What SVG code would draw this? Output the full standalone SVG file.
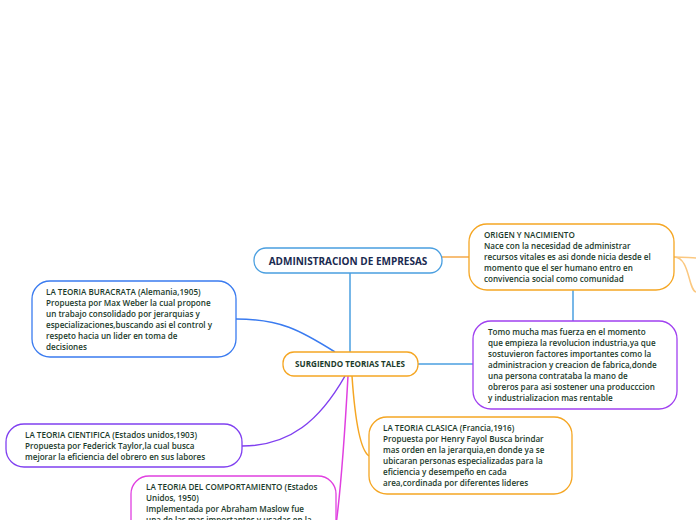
<svg xmlns="http://www.w3.org/2000/svg" width="696" height="520" viewBox="0 0 696 520">
<style>
.t{font-family:"Open Sans","Noto Sans",sans-serif;font-size:8.1px;font-weight:600;fill:#1b3b2b}
.n{fill:#fff;stroke-width:1.3}
.c{fill:none;stroke-width:1.5}
</style>
<rect width="696" height="520" fill="#fff"/>
<g id="connectors">
<path class="c" d="M350,273 V352" stroke="#4a9fe0" stroke-width="2"/>
<path class="c" d="M442,257 H469" stroke="#f5a84a"/>
<path class="c" d="M573,290 V321" stroke="#4a9fe0" stroke-width="2"/>
<path class="c" d="M418,364 H473" stroke="#4a9fe0" stroke-width="2"/>
<path class="c" d="M335,352 C300,330 280,319 236,319" stroke="#3a7bf0"/>
<path class="c" d="M345,376 C320,420 290,446 242,446" stroke="#8040f0"/>
<path class="c" d="M348,376 C345,430 342,480 336,525" stroke="#e040e0"/>
<path class="c" d="M352,376 C355,420 360,450 369,456" stroke="#f5a623"/>
<path class="c" d="M674,257 C685,257 690,258 696,258" stroke="#fbc880"/>
<path class="c" d="M674,257 C690,257 688,290 696,292" stroke="#fbc880"/>
</g>
<g id="admin">
<rect class="n" x="254" y="248" width="188" height="25" rx="12" stroke="#4a9fe0"/>
<text x="348" y="265" text-anchor="middle" style="font-family:'Open Sans',sans-serif;font-size:10px;font-weight:700;fill:#1a2a50">ADMINISTRACION DE EMPRESAS</text>
</g>
<g id="surgiendo">
<rect class="n" x="283" y="352" width="135" height="24" rx="11" stroke="#f5a623"/>
<text class="t" x="350" y="367" text-anchor="middle" style="font-weight:700">SURGIENDO TEORIAS TALES</text>
</g>
<g id="buracrata">
<rect class="n" x="32" y="281" width="204" height="76" rx="18" stroke="#3a7bf0"/>
<text class="t" x="46" y="295">LA TEORIA BURACRATA (Alemania,1905)</text>
<text class="t" x="46" y="306">Propuesta por Max Weber la cual propone</text>
<text class="t" x="46" y="317">un trabajo consolidado por jerarquias y</text>
<text class="t" x="46" y="328">especializaciones,buscando asi el control y</text>
<text class="t" x="46" y="339">respeto hacia un lider en toma de</text>
<text class="t" x="46" y="350">decisiones</text>
</g>
<g id="cientifica">
<rect class="n" x="6" y="424" width="236" height="43" rx="18" stroke="#8040f0"/>
<text class="t" x="25" y="438">LA TEORIA CIENTIFICA (Estados unidos,1903)</text>
<text class="t" x="25" y="449">Propuesta por Federick Taylor,la cual busca</text>
<text class="t" x="25" y="460">mejorar la eficiencia del obrero en sus labores</text>
</g>
<g id="comportamiento">
<rect class="n" x="131" y="476" width="205" height="70" rx="18" stroke="#e040e0"/>
<text class="t" x="146" y="490">LA TEORIA DEL COMPORTAMIENTO (Estados</text>
<text class="t" x="146" y="501">Unidos, 1950)</text>
<text class="t" x="146" y="512">Implementada por Abraham Maslow fue</text>
<text class="t" x="146" y="523">una de las mas importantes y usadas en la</text>
</g>
<g id="origen">
<rect class="n" x="469" y="224" width="205" height="66" rx="18" stroke="#f5a623"/>
<text class="t" x="484" y="238">ORIGEN Y NACIMIENTO</text>
<text class="t" x="484" y="249">Nace con la necesidad de administrar</text>
<text class="t" x="484" y="260">recursos vitales es asi donde nicia desde el</text>
<text class="t" x="484" y="271">momento que el ser humano entro en</text>
<text class="t" x="484" y="282">convivencia social como comunidad</text>
</g>
<g id="tomo">
<rect class="n" x="473" y="321" width="204" height="88" rx="18" stroke="#a040f0"/>
<text class="t" x="488" y="335">Tomo mucha mas fuerza en el momento</text>
<text class="t" x="488" y="346">que empieza la revolucion industria,ya que</text>
<text class="t" x="488" y="357">sostuvieron factores importantes como la</text>
<text class="t" x="488" y="368">administracion y creacion de fabrica,donde</text>
<text class="t" x="488" y="379">una persona contrataba la mano de</text>
<text class="t" x="488" y="390">obreros para asi sostener una producccion</text>
<text class="t" x="488" y="401">y industrializacion mas rentable</text>
</g>
<g id="clasica">
<rect class="n" x="369" y="417" width="203" height="77" rx="18" stroke="#f5a623"/>
<text class="t" x="383" y="431">LA TEORIA CLASICA (Francia,1916)</text>
<text class="t" x="383" y="442">Propuesta por Henry Fayol Busca brindar</text>
<text class="t" x="383" y="453">mas orden en la jerarquia,en donde ya se</text>
<text class="t" x="383" y="464">ubicaran personas especializadas para la</text>
<text class="t" x="383" y="475">eficiencia y desempeño en cada</text>
<text class="t" x="383" y="486">area,cordinada por diferentes lideres</text>
</g>
</svg>
